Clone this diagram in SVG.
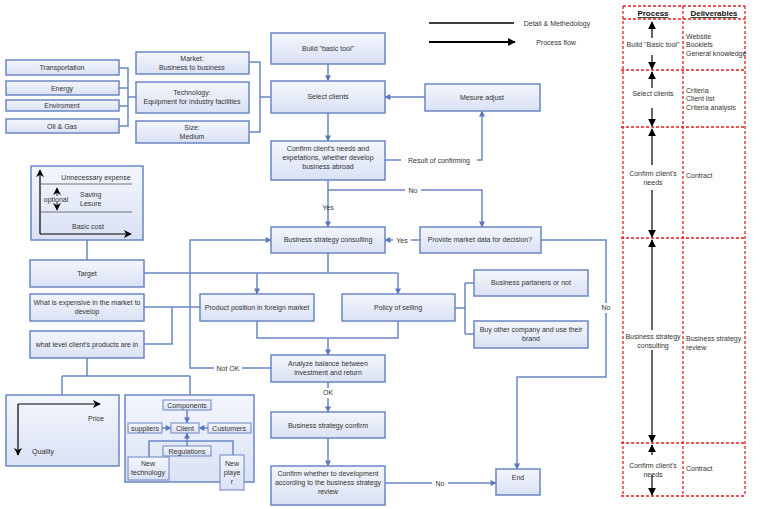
<svg xmlns="http://www.w3.org/2000/svg" width="768" height="509" viewBox="0 0 768 509">
<defs>
<linearGradient id="g" x1="0" y1="0" x2="0" y2="1"><stop offset="0" stop-color="#f4f6fc"/><stop offset="1" stop-color="#d9e1f4"/></linearGradient>
<marker id="a" viewBox="0 0 10 10" refX="9" refY="5" markerWidth="7" markerHeight="6" orient="auto" markerUnits="userSpaceOnUse"><path d="M0,0L10,5L0,10z" fill="#5b78bd"/></marker>
<marker id="k" viewBox="0 0 10 10" refX="9" refY="5" markerWidth="8" markerHeight="8" orient="auto" markerUnits="userSpaceOnUse"><path d="M0,0L10,5L0,10L3,5z" fill="#000"/></marker>
<marker id="kt" viewBox="0 0 10 10" refX="9" refY="5" markerWidth="8" markerHeight="8" orient="auto" markerUnits="userSpaceOnUse"><path d="M0,0L10,5L0,10z" fill="#000"/></marker>
</defs>
<style>
.b rect{fill:url(#g);stroke:#6b86c4;stroke-width:1.5}
.c path{fill:none;stroke:#6b86c4;stroke-width:1.5}
.c path.ar{marker-end:url(#a)}
text{font-family:"Liberation Sans",Arial,sans-serif;font-size:7px;fill:#333;text-anchor:middle}
.l{fill:#fff;stroke:none}
.t line{stroke:#e02020;stroke-width:1.3;stroke-dasharray:3,2}
</style>
<rect width="768" height="509" fill="#fff"/>
<g id="connectors" class="c">
<path d="M119,68H128V126H119M119,88H128M119,106H128M128,97H136"/>
<path d="M249,62H260V132H249M260,97H271"/>
<path class="ar" d="M328,64V81"/>
<path class="ar" d="M328,113V141"/>
<path class="ar" d="M425,97H385"/>
<path class="ar" d="M385,160H482V111"/>
<path class="ar" d="M328,180V227"/>
<path class="ar" d="M328,190H482V227"/>
<path class="ar" d="M420,240H385"/>
<path class="ar" d="M541,240H606V377H517V469"/>
<path d="M87,240V260"/>
<path d="M328,253V273M144,273H398"/>
<path class="ar" d="M257,273V294"/>
<path class="ar" d="M398,273V294"/>
<path d="M144,307H200M172,307V344H144"/>
<path d="M257,321V338H398V321"/>
<path class="ar" d="M328,338V355"/>
<path d="M455,308H465M465,283V334M465,283H474M465,334H474"/>
<path class="ar" d="M271,368H190V240H271"/>
<path class="ar" d="M328,382V412"/>
<path class="ar" d="M328,438V466"/>
<path class="ar" d="M385,483H496"/>
<path d="M87,358V376M62,376H190M62,376V395M190,376V395"/>
</g>
<g class="b">
<g id="n-build"><rect x="271" y="33" width="114" height="31"/><text x="328" y="51">Build "basic tool"</text></g>
<g id="n-select"><rect x="271" y="81" width="114" height="32"/><text x="328" y="99">Select clients</text></g>
<g id="n-confirm"><rect x="271" y="141" width="114" height="39"/><text x="328" y="151">Confirm client's needs and</text><text x="328" y="160">expetations, whether develop</text><text x="328" y="169">business abroad</text></g>
<g id="n-bsc"><rect x="271" y="227" width="114" height="26"/><text x="328" y="242">Business strategy consulting</text></g>
<g id="n-mesure"><rect x="425" y="84" width="115" height="27"/><text x="482" y="100">Mesure adjust</text></g>
<g id="n-provide"><rect x="420" y="227" width="121" height="26"/><text x="480" y="242">Provide market data for decision?</text></g>
<g id="n-target"><rect x="30" y="260" width="114" height="27"/><text x="87" y="276">Target</text></g>
<g id="n-exp"><rect x="30" y="294" width="114" height="27"/><text x="87" y="305">What is expensive in the market to</text><text x="87" y="314">develop</text></g>
<g id="n-level"><rect x="30" y="331" width="114" height="27"/><text x="87" y="347">what level client's products are in</text></g>
<g id="n-pp"><rect x="200" y="294" width="114" height="27"/><text x="257" y="310">Product position in foreign market</text></g>
<g id="n-pol"><rect x="342" y="294" width="113" height="27"/><text x="398" y="310">Policy of selling</text></g>
<g id="n-bp"><rect x="474" y="270" width="114" height="26"/><text x="531" y="285">Business partaners or not</text></g>
<g id="n-buy"><rect x="474" y="321" width="114" height="27"/><text x="531" y="332">Buy other company and use their</text><text x="531" y="341">brand</text></g>
<g id="n-an"><rect x="271" y="355" width="114" height="27"/><text x="328" y="366">Analyze balance between</text><text x="328" y="375">investment and return</text></g>
<g id="n-bcf"><rect x="271" y="412" width="114" height="26"/><text x="328" y="428">Business strategy confirm</text></g>
<g id="n-cw"><rect x="271" y="466" width="114" height="39"/><text x="328" y="476">Confirm whether to development</text><text x="328" y="485">according to the business strategy</text><text x="328" y="494">review</text></g>
<g id="n-end"><rect x="496" y="469" width="44" height="26"/><text x="518" y="480">End</text></g>
<g id="n-tr"><rect x="6" y="60" width="113" height="15"/><text x="62" y="70">Transportation</text></g>
<g id="n-en"><rect x="6" y="81" width="113" height="14"/><text x="62" y="91">Energy</text></g>
<g id="n-env"><rect x="6" y="100" width="113" height="11"/><text x="62" y="108">Enviroment</text></g>
<g id="n-oil"><rect x="6" y="119" width="113" height="14"/><text x="62" y="129">Oil &amp; Gas</text></g>
<g id="n-mk"><rect x="136" y="52" width="113" height="22"/><text x="192" y="61">Market:</text><text x="192" y="70">Business to business</text></g>
<g id="n-tech"><rect x="136" y="82" width="113" height="31"/><text x="192" y="95">Technology:</text><text x="192" y="104">Equipment for industry facilities</text></g>
<g id="n-size"><rect x="136" y="121" width="113" height="22"/><text x="192" y="130">Size:</text><text x="192" y="139">Medium</text></g>
<g id="n-cost"><rect x="31" y="166" width="112" height="74"/>
<path d="M40,234H131" fill="none" stroke="#000" stroke-width="1.2" marker-end="url(#k)"/>
<path d="M40,234V170" fill="none" stroke="#000" stroke-width="1.2" marker-end="url(#k)"/>
<path d="M40,184H132M40,212H132" stroke="#555" stroke-width="0.8"/>
<path d="M57,196V188" stroke="#000" stroke-width="0.8" marker-end="url(#k)"/>
<path d="M57,202V210" stroke="#000" stroke-width="0.8" marker-end="url(#k)"/>
<text x="96" y="180">Unnecessary expense</text><text x="56" y="202">optional</text><text x="80" y="197" style="text-anchor:start">Saving</text><text x="80" y="206" style="text-anchor:start">Lesure</text><text x="88" y="229">Basic cost</text></g>
<g id="n-qual"><rect x="6" y="395" width="113" height="71"/>
<path d="M18,404H100" fill="none" stroke="#000" stroke-width="1.2" marker-end="url(#k)"/>
<path d="M18,404V455" fill="none" stroke="#000" stroke-width="1.2" marker-end="url(#k)"/>
<text x="96" y="421">Price</text><text x="43" y="454">Quality</text></g>
<g id="n-client"><rect x="125" y="395" width="129" height="87"/>
<g class="c"><path class="ar" d="M187,410V423"/><path class="ar" d="M162,428H171"/><path class="ar" d="M208,428H199"/><path class="ar" d="M187,446V433"/><path d="M149,457V441H233V455"/></g>
<rect x="163" y="400" width="48" height="10" style="stroke-width:1"/><text x="187" y="408">Components</text>
<rect x="128" y="423" width="34" height="10" style="stroke-width:1"/><text x="145" y="431">suppliers</text>
<rect x="171" y="423" width="28" height="10" style="stroke-width:1"/><text x="185" y="431">Client</text>
<rect x="208" y="423" width="43" height="10" style="stroke-width:1"/><text x="229" y="431">Customers</text>
<rect x="163" y="446" width="48" height="10" style="stroke-width:1"/><text x="187" y="454">Regulations</text>
<rect x="128" y="457" width="41" height="23" style="stroke-width:1"/><text x="148" y="466">New</text><text x="148" y="475">technology</text>
<rect x="220" y="455" width="24" height="35" style="stroke-width:1"/><text x="232" y="466">New</text><text x="232" y="475">playe</text><text x="232" y="484">r</text></g>
</g>
<g id="labels">
<rect class="l" x="401" y="155" width="76" height="10"/><text x="439" y="163">Result of confirming</text>
<rect class="l" x="405" y="185" width="16" height="10"/><text x="413" y="193">No</text>
<text x="328" y="210">Yes</text>
<rect class="l" x="393" y="235" width="18" height="10"/><text x="402" y="243">Yes</text>
<rect class="l" x="599" y="303" width="14" height="10"/><text x="606" y="310">No</text>
<rect class="l" x="214" y="363" width="28" height="10"/><text x="228" y="371">Not OK</text>
<rect class="l" x="320" y="388" width="16" height="10"/><text x="328" y="395">OK</text>
<rect class="l" x="432" y="478" width="16" height="10"/><text x="440" y="486">No</text>
</g>
<g id="legend">
<path d="M429,23H514" stroke="#000" stroke-width="1.5"/>
<path d="M429,42H515" stroke="#000" stroke-width="2" marker-end="url(#kt)"/>
<text x="557" y="26">Detail &amp; Methedology</text><text x="556" y="45">Process flow</text>
</g>
<g id="table" class="t">
<line x1="623" y1="6" x2="623" y2="496"/><line x1="683" y1="6" x2="683" y2="496"/><line x1="745" y1="6" x2="745" y2="496"/>
<line x1="623" y1="6" x2="745" y2="6"/><line x1="623" y1="19" x2="745" y2="19"/><line x1="621" y1="70" x2="745" y2="70"/><line x1="621" y1="127" x2="745" y2="127"/><line x1="621" y1="238" x2="745" y2="238"/><line x1="621" y1="443" x2="745" y2="443"/><line x1="621" y1="496" x2="745" y2="496"/>
<g stroke="#000" stroke-width="1.2" fill="none">
<path d="M652,38V22" marker-end="url(#kt)"/><path d="M652,55V69" marker-end="url(#kt)"/>
<path d="M652,88V72" marker-end="url(#kt)"/><path d="M652,108V126" marker-end="url(#kt)"/>
<path d="M652,165V129" marker-end="url(#kt)"/><path d="M652,190V237" marker-end="url(#kt)"/>
<path d="M652,330V240" marker-end="url(#kt)"/><path d="M652,350V442" marker-end="url(#kt)"/>
<path d="M652,455V445" marker-end="url(#kt)"/><path d="M652,475V495" marker-end="url(#kt)"/>
</g>
<text x="653" y="16" style="font-weight:bold;font-size:8px;text-decoration:underline;fill:#111">Process</text>
<text x="714" y="16" style="font-weight:bold;font-size:8px;text-decoration:underline;fill:#111">Deliverables</text>
<text x="653" y="47">Build "Basic tool"</text>
<text x="653" y="96">Select clients</text>
<text x="653" y="176">Confirm client's</text><text x="653" y="185">needs</text>
<text x="653" y="339">Business strategy</text><text x="653" y="348">consulting</text>
<text x="653" y="468">Confirm client's</text><text x="653" y="477">needs</text>
<text x="686" y="39" style="text-anchor:start">Website</text><text x="686" y="47" style="text-anchor:start">Booklets</text><text x="686" y="56" style="text-anchor:start">General knowledge</text>
<text x="686" y="93" style="text-anchor:start">Criteria</text><text x="686" y="101" style="text-anchor:start">Client list</text><text x="686" y="110" style="text-anchor:start">Criteria analysis</text>
<text x="686" y="178" style="text-anchor:start">Contract</text>
<text x="686" y="341" style="text-anchor:start">Business strategy</text><text x="686" y="350" style="text-anchor:start">review</text>
<text x="686" y="471" style="text-anchor:start">Contract</text>
</g>
</svg>
